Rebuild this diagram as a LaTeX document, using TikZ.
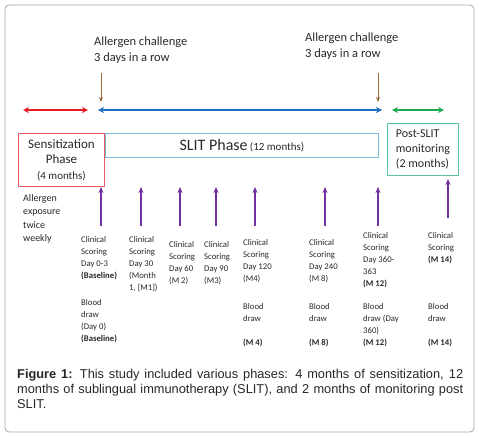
\documentclass[tikz,border=0pt]{standalone}
\usepackage{fontspec}
\setmainfont{Carlito}
\newfontfamily\capfont{Liberation Sans}
\usetikzlibrary{arrows.meta}
\definecolor{cred}{RGB}{230,30,35}
\definecolor{cblue}{RGB}{30,110,190}
\definecolor{cgreen}{RGB}{30,170,80}
\definecolor{cbrown}{RGB}{150,105,60}
\definecolor{cpurple}{RGB}{112,48,160}
\definecolor{bxred}{RGB}{230,90,100}
\definecolor{bxblue}{RGB}{120,185,215}
\definecolor{bxteal}{RGB}{90,195,170}
\definecolor{txt}{RGB}{40,40,40}
\tikzset{
  phase/.style={<->,>={Stealth[length=6pt,width=6pt]},line width=1.2pt},
  chal/.style={->,>={Stealth[length=5pt,width=4pt]},cbrown,line width=0.9pt},
  evt/.style={->,>={Stealth[length=6pt,width=5pt]},cpurple,line width=1.4pt},
  lbl/.style={anchor=north west,inner sep=0pt,align=left,text=txt,font=\fontsize{12.5}{15.5}\selectfont},
  small/.style={anchor=north west,inner sep=0pt,align=left,text=txt,font=\fontsize{8.7}{12}\selectfont},
  box/.style={draw,line width=0.9pt,inner sep=0pt,align=center,text=txt}
}
\begin{document}
\begin{tikzpicture}[x=1pt,y=-1pt]
\useasboundingbox (0,0) rectangle (479,437);
\draw[gray!70,line width=0.8pt,rounded corners=4pt] (5,5) rectangle (474,432);
% challenge labels
\node[lbl] (c1) at (94,37) {Allergen challenge\\3 days in a row};
\node[lbl] (c2) at (305,33) {Allergen challenge\\3 days in a row};
\coordinate (c1t) at (101,73); \coordinate (c1b) at (101,102);
\coordinate (c2t) at (378,73); \coordinate (c2b) at (378,102);
\draw[chal] (c1t) -- (c1b);
\draw[chal] (c2t) -- (c2b);
% phase arrows
\coordinate (r1) at (23,110); \coordinate (r2) at (88,110);
\coordinate (b1) at (98,110); \coordinate (b2) at (382,110);
\coordinate (g1) at (392,110); \coordinate (g2) at (444,110);
\draw[phase,cred] (r1) -- (r2);
\draw[phase,cblue] (b1) -- (b2);
\draw[phase,cgreen] (g1) -- (g2);
% boxes
\node[box,draw=bxred,minimum width=86pt,minimum height=53pt,anchor=north west,font=\fontsize{13}{15.5}\selectfont] (sens) at (18,133) {Sensitization\\Phase\\{\fontsize{11}{13}\selectfont(4 months)}};
\node[box,draw=bxblue,minimum width=273pt,minimum height=24pt,anchor=north west] (slit) at (105,133) {{\fontsize{16}{17}\selectfont SLIT Phase} {\fontsize{11}{12}\selectfont(12 months)}};
\node[box,draw=bxteal,minimum width=71pt,minimum height=52pt,anchor=north west,align=left,font=\fontsize{12}{15}\selectfont] (post) at (387,123) {Post-SLIT\\monitoring\\(2 months)};
\node[lbl,font=\fontsize{10}{13.5}\selectfont] (exp) at (23,194) {Allergen\\exposure\\twice\\weekly};
% event arrows
\foreach \n/\x in {e1/101,e2/141,e3/180,e4/216,e5/255,e6/325,e7/378}{
  \coordinate (\n b) at (\x,226); \coordinate (\n t) at (\x,187);
  \draw[evt] (\n b) -- (\n t);
}
\coordinate (e8b) at (448,218); \coordinate (e8t) at (448,179);
\draw[evt] (e8b) -- (e8t);
% clinical scoring
\node[small] (s1) at (81,236) {Clinical\\Scoring\\Day 0-3\\\textbf{(Baseline)}};
\node[small] (s2) at (129,236) {Clinical\\Scoring\\Day 30\\(Month\\1, [M1])};
\node[small] (s3) at (169,241) {Clinical\\Scoring\\Day 60\\(M 2)};
\node[small] (s4) at (204,241) {Clinical\\Scoring\\Day 90\\(M3)};
\node[small] (s5) at (243,239) {Clinical\\Scoring\\Day 120\\(M4)};
\node[small] (s6) at (309,239) {Clinical\\Scoring\\Day 240\\(M 8)};
\node[small] (s7) at (363,232) {Clinical\\Scoring\\Day 360-\\363\\\textbf{(M 12)}};
\node[small] (s8) at (428,232) {Clinical\\Scoring\\\textbf{(M 14)}};
% blood draw
\node[small] (d1) at (81,299) {Blood\\draw\\(Day 0)\\\textbf{(Baseline)}};
\node[small] (d5) at (243,303) {Blood\\draw\\\\\textbf{(M 4)}};
\node[small] (d6) at (309,303) {Blood\\draw\\\\\textbf{(M 8)}};
\node[small] (d7) at (363,303) {Blood\\draw (Day\\360)\\\textbf{(M 12)}};
\node[small] (d8) at (428,303) {Blood\\draw\\\\\textbf{(M 14)}};
% caption
\node[anchor=north west,inner sep=0pt,text width=446pt,align=justify,font=\capfont\fontsize{12.8}{15}\selectfont,text=black!85] (cap) at (17,369) {\textbf{Figure 1:} This study included various phases: 4 months of sensitization, 12\linebreak months of sublingual immunotherapy (SLIT), and 2 months of monitoring post\linebreak SLIT.};
\end{tikzpicture}
\end{document}
